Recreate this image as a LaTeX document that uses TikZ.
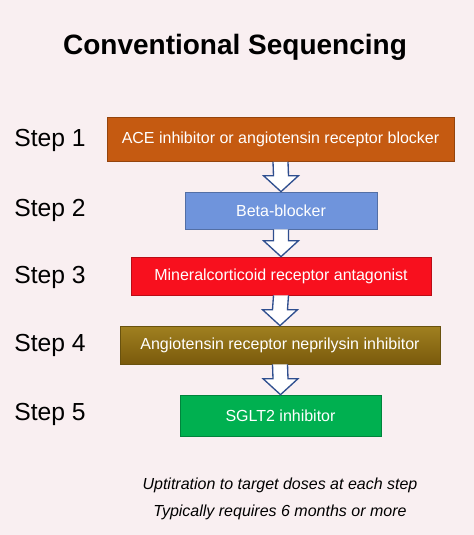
\documentclass[tikz,border=0pt]{standalone}
\usepackage{fontspec}
\setmainfont{Liberation Sans}
\usepackage{tikz}
\usetikzlibrary{positioning,calc}

\definecolor{bgpink}{HTML}{F9EFF1}
\definecolor{aceorange}{HTML}{C55A11}
\definecolor{betablue}{HTML}{6F94DC}
\definecolor{mrared}{HTML}{F8101E}
\definecolor{arniolive}{HTML}{8C6D12}
\definecolor{olivetop}{HTML}{A08020}
\definecolor{olivebottom}{HTML}{7A5A0C}
\definecolor{sglgreen}{HTML}{00B050}
\definecolor{arrowblue}{HTML}{2F4F8F}

\tikzset{
	stepbox/.style={draw=#1!75!black, fill=#1, text=white, line width=0.5pt,
		inner sep=0pt, font=\fontsize{12}{14}\selectfont},
	steplabel/.style={font=\fontsize{18.5}{22}\selectfont},
	notetext/.style={font=\itshape\fontsize{12}{14}\selectfont},
	hollowarrow/.style={draw=arrowblue, fill=white, line width=1pt, line join=miter}
}

% hollow block arrow from one box down to the next
\newcommand{\hollowdown}[2]{
	\draw[hollowarrow] ($(#1.south)+(-7.5,0)$) -- ($(#2.north)+(-7.5,-16)$)
		-- ($(#2.north)+(-17.5,-16)$) -- (#2.north) -- ($(#2.north)+(17.5,-16)$)
		-- ($(#2.north)+(7.5,-16)$) -- ($(#1.south)+(7.5,0)$);
}

\begin{document}
\begin{tikzpicture}[x=0.75pt,y=-0.75pt]
\useasboundingbox[fill=bgpink] (0,0) rectangle (474,535);

\node[font=\bfseries\fontsize{21}{25}\selectfont] (title) at (235,47) {Conventional Sequencing};

	\node[steplabel] (s1) at (50,140) {Step 1};
	\node[steplabel] (s2) at (50,210) {Step 2};
	\node[steplabel] (s3) at (50,277) {Step 3};
	\node[steplabel] (s4) at (50,345) {Step 4};
	\node[steplabel] (s5) at (50,414) {Step 5};

	\node[stepbox=aceorange, minimum width=260.25pt, minimum height=33pt] (ace) at (280.5,139.5) {ACE inhibitor or angiotensin receptor blocker};
	\node[stepbox=betablue, minimum width=144pt, minimum height=27.75pt] (beta) at (281,210.5) {Beta-blocker};
	\node[stepbox=mrared, minimum width=225pt, minimum height=28.5pt] (mra) at (281,276) {Mineralcorticoid receptor antagonist};
	\node[stepbox=arniolive, top color=olivetop, bottom color=olivebottom, minimum width=240pt, minimum height=28.5pt] (arni) at (280,345) {Angiotensin receptor neprilysin inhibitor};
	\node[stepbox=sglgreen, minimum width=150.75pt, minimum height=30.75pt] (sglt) at (280.5,415.5) {SGLT2 inhibitor};

	\hollowdown{ace}{beta}
	\hollowdown{beta}{mra}
	\hollowdown{mra}{arni}
	\hollowdown{arni}{sglt}

\node[notetext] (note1) at (280,485) {Uptitration to target doses at each step};
\node[notetext] (note2) at (280,512) {Typically requires 6 months or more};
\end{tikzpicture}
\end{document}
